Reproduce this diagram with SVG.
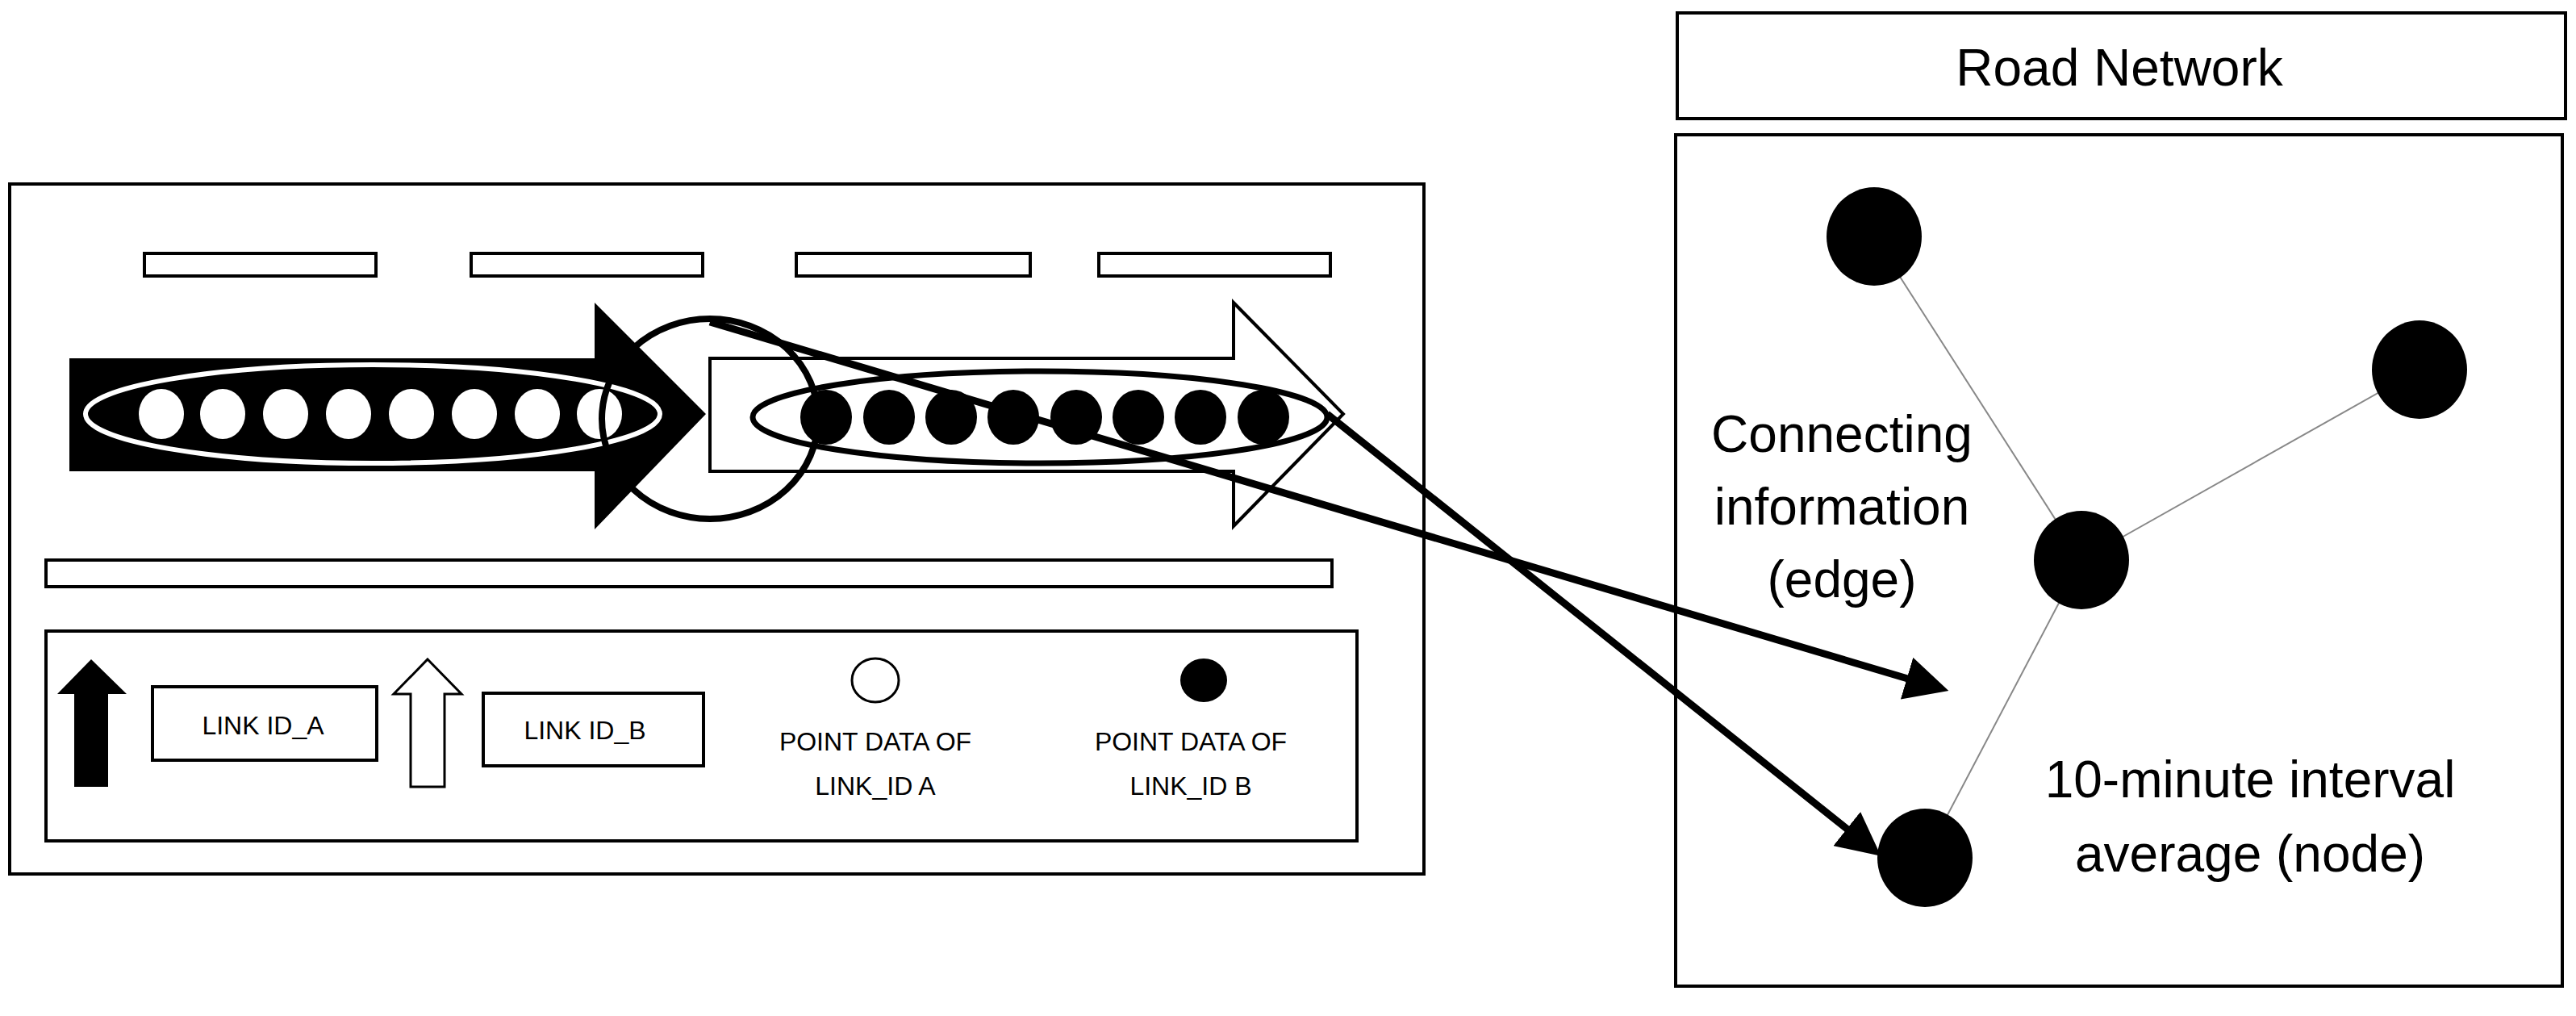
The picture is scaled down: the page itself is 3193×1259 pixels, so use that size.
<svg xmlns="http://www.w3.org/2000/svg" width="3193" height="1259" viewBox="0 0 3193 1259">
<style>
.box{fill:#fff;stroke:#000;stroke-width:4}
.t{font-family:"Liberation Sans",Arial,sans-serif;fill:#000;text-anchor:middle}
.big{font-size:64px}
.sm{font-size:32px}
.edge{stroke:#888;stroke-width:2}
.conn{stroke:#000;stroke-width:9;fill:none;marker-end:url(#ah)}
</style>
<defs>
<marker id="ah" viewBox="0 0 10 10" refX="8" refY="5" markerWidth="6" markerHeight="6" orient="auto" markerUnits="strokeWidth"><path d="M0,0 L10,5 L0,10 z" fill="#000"/></marker>
</defs>
<rect width="3193" height="1259" fill="#fff"/>
<g id="left-panel">
<rect class="box" x="12" y="228" width="1753" height="855"/>
<rect class="box" x="179" y="314" width="287" height="28"/>
<rect class="box" x="584" y="314" width="287" height="28"/>
<rect class="box" x="987" y="314" width="290" height="28"/>
<rect class="box" x="1362" y="314" width="287" height="28"/>
<rect class="box" x="57" y="694" width="1594" height="33"/>
</g>
<g id="arrow-a">
<path d="M86,444 H737 V375 L875,513 L737,656 V584 H86 Z" fill="#000"/>
<ellipse cx="462" cy="513" rx="356" ry="61" fill="none" stroke="#fff" stroke-width="6"/>
<g fill="#fff">
<ellipse cx="200" cy="513" rx="28" ry="31"/><ellipse cx="276" cy="513" rx="28" ry="31"/><ellipse cx="354" cy="513" rx="28" ry="31"/><ellipse cx="432" cy="513" rx="28" ry="31"/><ellipse cx="510" cy="513" rx="28" ry="31"/><ellipse cx="588" cy="513" rx="28" ry="31"/><ellipse cx="666" cy="513" rx="28" ry="31"/><ellipse cx="743" cy="513" rx="28" ry="31"/>
</g>
</g>
<g id="arrow-b">
<path d="M880,444 H1529 V375 L1665,513 L1529,652 V584 H880 Z" fill="#fff" stroke="#000" stroke-width="4"/>
<ellipse cx="1289" cy="517" rx="356" ry="57" fill="none" stroke="#000" stroke-width="7"/>
<g fill="#000">
<ellipse cx="1024" cy="517" rx="32" ry="34"/><ellipse cx="1102" cy="517" rx="32" ry="34"/><ellipse cx="1179" cy="517" rx="32" ry="34"/><ellipse cx="1256" cy="517" rx="32" ry="34"/><ellipse cx="1334" cy="517" rx="32" ry="34"/><ellipse cx="1411" cy="517" rx="32" ry="34"/><ellipse cx="1488" cy="517" rx="32" ry="34"/><ellipse cx="1566" cy="517" rx="32" ry="34"/>
</g>
</g>
<g id="junction-circle">
<ellipse cx="880" cy="519" rx="134" ry="124" fill="none" stroke="#000" stroke-width="8"/>
</g>
<g id="legend">
<rect class="box" x="57" y="782" width="1625" height="260"/>
<path d="M113,817 L157,860 H134 V975 H92 V860 H71 Z" fill="#000"/>
<path d="M530,817 L572,860 H551 V975 H509 V860 H488 Z" fill="#fff" stroke="#000" stroke-width="3"/>
<rect class="box" x="189" y="851" width="278" height="91" stroke-width="3"/>
<text class="t sm" x="326" y="910">LINK ID_A</text>
<rect class="box" x="599" y="859" width="273" height="90" stroke-width="3"/>
<text class="t sm" x="725" y="916">LINK ID_B</text>
<ellipse cx="1085" cy="843" rx="29" ry="27" fill="#fff" stroke="#000" stroke-width="3"/>
<text class="t sm" x="1085" y="930">POINT DATA OF</text>
<text class="t sm" x="1085" y="985">LINK_ID A</text>
<ellipse cx="1492" cy="843" rx="29" ry="27" fill="#000"/>
<text class="t sm" x="1476" y="930">POINT DATA OF</text>
<text class="t sm" x="1476" y="985">LINK_ID B</text>
</g>
<g id="road-network">
<rect class="box" x="2079" y="16" width="1101" height="131" stroke-width="3"/>
<text class="t" font-size="64" x="2627" y="106">Road Network</text>
<rect class="box" x="2077" y="167" width="1099" height="1055" stroke-width="3"/>
</g>
<g id="edges">
<line class="edge" x1="2323" y1="293" x2="2580" y2="694"/>
<line class="edge" x1="2999" y1="458" x2="2580" y2="694"/>
<line class="edge" x1="2580" y1="694" x2="2386" y2="1063"/>
</g>
<g id="node1"><ellipse cx="2323" cy="293" rx="59" ry="61"/></g>
<g id="node2"><ellipse cx="2999" cy="458" rx="59" ry="61"/></g>
<g id="node3"><ellipse cx="2580" cy="694" rx="59" ry="61"/></g>
<g id="node4"><ellipse cx="2386" cy="1063" rx="59" ry="61"/></g>
<g id="labels">
<text class="t big" x="2283" y="560">Connecting</text>
<text class="t big" x="2283" y="650">information</text>
<text class="t big" x="2283" y="740">(edge)</text>
<text class="t big" x="2789" y="988">10-minute interval</text>
<text class="t big" x="2789" y="1080">average (node)</text>
</g>
<g id="connectors">
<line class="conn" x1="880" y1="399" x2="2405" y2="853"/>
<line class="conn" x1="1645" y1="513" x2="2323" y2="1054"/>
</g>
</svg>
